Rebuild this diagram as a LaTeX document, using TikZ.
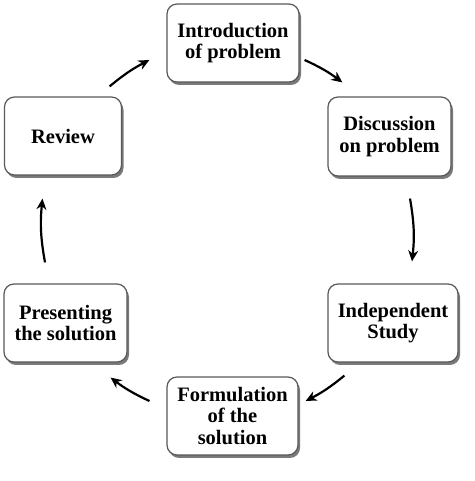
\documentclass[tikz,border=0pt]{standalone}
\usepackage{fontspec}
\setmainfont{Liberation Serif}
\usetikzlibrary{shadows,calc,arrows.meta}
\begin{document}
\begin{tikzpicture}[x=1pt,y=1pt,
  stagebox/.style={draw=black!65, line width=1.2pt, rounded corners=10pt, fill=white,
    drop shadow={shadow xshift=2pt, shadow yshift=-3pt, fill=black!65, opacity=0.8},
    align=center, inner sep=0pt,
    font=\fontsize{20.5}{21.7}\selectfont\bfseries},
  arr/.style={line width=2.2pt, -{Stealth[length=11pt,width=10pt]}}]
\useasboundingbox (0,0) rectangle (474,481);
\node[stagebox, minimum width=132pt, minimum height=78pt] (intro) at (233,438) {Introduction\\of problem};
\node[stagebox, minimum width=123pt, minimum height=79pt] (disc) at (389.5,344.5) {Discussion\\on problem};
\node[stagebox, minimum width=117pt, minimum height=78pt] (review) at (63,345) {Review};
\node[stagebox, minimum width=130pt, minimum height=78pt] (indep) at (393,158) {Independent\\Study};
\node[stagebox, minimum width=123pt, minimum height=78pt] (present) at (65.5,158) {Presenting\\the solution};
\node[stagebox, minimum width=131pt, minimum height=78pt] (form) at (232.5,65) {Formulation\\of the\\solution};
\draw[arr] ($(review.north east)+(-12.5,10)$) to[bend left=6] ($(intro.west)+(-17,-17)$);
\draw[arr] ($(intro.east)+(5,-17)$) to[bend left=6] ($(disc.north west)+(15,14)$);
\draw[arr] ($(disc.south)+(20.5,-22)$) to[bend left=8] ($(indep.north)+(19,22)$);
\draw[arr] ($(indep.south west)+(17,-13)$) to[bend left=6] ($(form.east)+(7,15)$);
\draw[arr] ($(form.west)+(-17,15)$) to[bend left=6] ($(present.south east)+(-17,-15)$);
\draw[arr] ($(present.north)+(-20.5,21)$) to[bend left=8] ($(review.south)+(-20.5,-23)$);
\end{tikzpicture}
\end{document}
